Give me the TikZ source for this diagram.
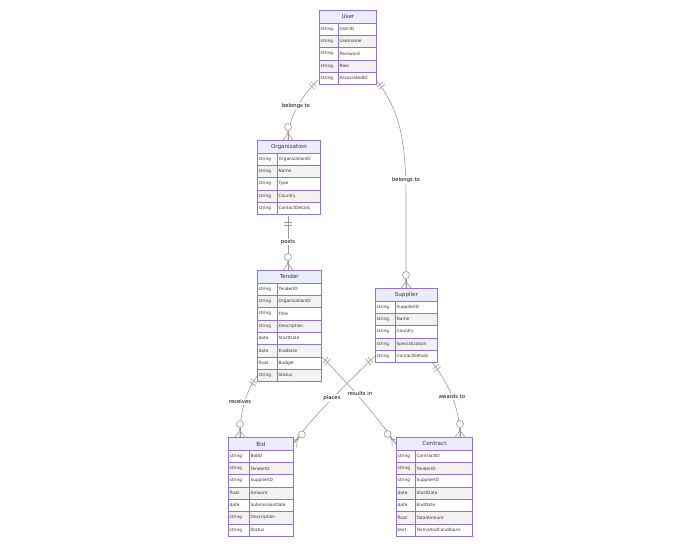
\documentclass[tikz,border=0pt]{standalone}
\usepackage{fontspec}
\setmainfont{DejaVu Sans}
\usetikzlibrary{calc}
\definecolor{bd}{HTML}{9370DB}
\definecolor{hf}{HTML}{ECECFF}
\definecolor{rg}{HTML}{F2F2F2}
\definecolor{tx}{HTML}{333333}
\definecolor{ln}{HTML}{999999}
\tikzset{
  hdr/.style={draw=bd,fill=hf,line width=0.8pt,minimum height=13pt,inner sep=0pt,text=tx,font=\fontsize{5.6}{6}\selectfont,anchor=north west},
  cell/.style={anchor=west,inner sep=1.5pt,text=tx,font=\fontsize{4.3}{5}\selectfont},
  rel/.style={draw=ln,line width=0.6pt},
  lbl/.style={fill=white,inner sep=1pt,text=black,font=\fontsize{5.3}{6}\selectfont},
}
\newcommand\myent[7]{%
  \node[hdr,minimum width=#5pt] (#1) at (#3,#4) {#2};
  \foreach \tp/\nm [count=\i] in {#7} {
    \pgfmathsetmacro\yy{#4+13+(\i-1)*12.3}
    \pgfmathsetmacro\fc{isodd(\i)?0:1}
    \ifdim\fc pt>0.5pt \def\ff{rg}\else\def\ff{white}\fi
    \draw[draw=bd,fill=\ff,line width=0.6pt] (#3,\yy) rectangle ++(#5,12.3);
    \draw[draw=bd,line width=0.6pt] (#3+#6,\yy) -- ++(0,12.3);
    \node[cell] (#1-t\i) at (#3,\yy+6.15) {\tp};
    \node[cell] (#1-n\i) at (#3+#6,\yy+6.15) {\nm};
  }
}
% zero-or-many at E approached from P
\newcommand\zm[2]{%
  \draw[rel,fill=white] ($(#1)!13pt!(#2)$) circle (3.5pt);
  \draw[rel] ($(#1)!-0pt!(#2)$) -- ($(#1)!9pt!(#2)$);
  \draw[rel] ($(#1)!5pt!90:(#2)$) .. controls ($(#1)!6pt!(#2)$) .. ($(#1)!9pt!(#2)$);
  \draw[rel] ($(#1)!5pt!-90:(#2)$) .. controls ($(#1)!6pt!(#2)$) .. ($(#1)!9pt!(#2)$);
}
% exactly one
\newcommand\oo[2]{%
  \draw[rel] ($($(#1)!6pt!(#2)$)!4pt!90:(#2)$) -- ($($(#1)!6pt!(#2)$)!4pt!-90:(#2)$);
  \draw[rel] ($($(#1)!9pt!(#2)$)!4pt!90:(#2)$) -- ($($(#1)!9pt!(#2)$)!4pt!-90:(#2)$);
}
\begin{document}
\begin{tikzpicture}[x=1pt,y=-1pt]
\useasboundingbox (0,0) rectangle (700,547);
\fill[white] (0,0) rectangle (700,547);
% relationships
\coordinate (u1) at (318,80); \coordinate (o1) at (288,140);
\coordinate (u2) at (376,80); \coordinate (s1) at (406,288);
\coordinate (o2) at (288,216); \coordinate (t1) at (288,270);
\coordinate (t2) at (257,376); \coordinate (b1) at (240,437);
\coordinate (s2) at (375,356); \coordinate (b2) at (293,444);
\coordinate (t3) at (321,356); \coordinate (c1) at (396,444);
\coordinate (s3) at (432,362); \coordinate (c2) at (460,437);
\draw[rel] (u1) .. controls (298,100) and (288,120) .. (o1);
\draw[rel] (u2) .. controls (400,110) and (406,140) .. (406,200) -- (s1);
\draw[rel] (o2) -- (t1);
\draw[rel] (t2) .. controls (244,395) and (240,415) .. (b1);
\draw[rel] (s2) .. controls (340,390) and (310,420) .. (b2);
\draw[rel] (t3) .. controls (350,385) and (380,420) .. (c1);
\draw[rel] (s3) .. controls (450,385) and (460,410) .. (c2);
\oo{u1}{298,100} \zm{o1}{288,118}
\oo{u2}{398,105} \zm{s1}{406,260}
\oo{o2}{288,240} \zm{t1}{288,245}
\oo{t2}{247,392} \zm{b1}{240,415}
\oo{s2}{355,373} \zm{b2}{308,428}
\oo{t3}{340,372} \zm{c1}{380,425}
\oo{s3}{448,382} \zm{c2}{460,415}
\node[lbl] (l1) at (296,106) {belongs to};
\node[lbl] (l2) at (406,180) {belongs to};
\node[lbl] (l3) at (288,242) {posts};
\node[lbl] (l4) at (240,402) {receives};
\node[lbl] (l5) at (332,398) {places};
\node[lbl] (l6) at (360,394) {results in};
\node[lbl] (l7) at (452,397) {awards to};
% entities
\myent{user}{User}{319}{10}{57}{19}{string/UserID,string/Username,string/Password,string/Role,string/AssociatedID}
\myent{org}{Organization}{257}{140}{63}{20}{string/OrganizationID,string/Name,string/Type,string/Country,string/ContactDetails}
\myent{ten}{Tender}{257}{270}{64}{20}{string/TenderID,string/OrganizationID,string/Title,string/Description,date/StartDate,date/EndDate,float/Budget,string/Status}
\myent{sup}{Supplier}{375}{288}{62}{20}{string/SupplierID,string/Name,string/Country,string/Specialization,string/ContactDetails}
\myent{bid}{Bid}{228}{437}{65}{21}{string/BidID,string/TenderID,string/SupplierID,float/Amount,date/SubmissionDate,string/Description,string/Status}
\myent{con}{Contract}{396}{437}{76}{19}{string/ContractID,string/TenderID,string/SupplierID,date/StartDate,date/EndDate,float/TotalAmount,text/TermsAndConditions}
\end{tikzpicture}
\end{document}
